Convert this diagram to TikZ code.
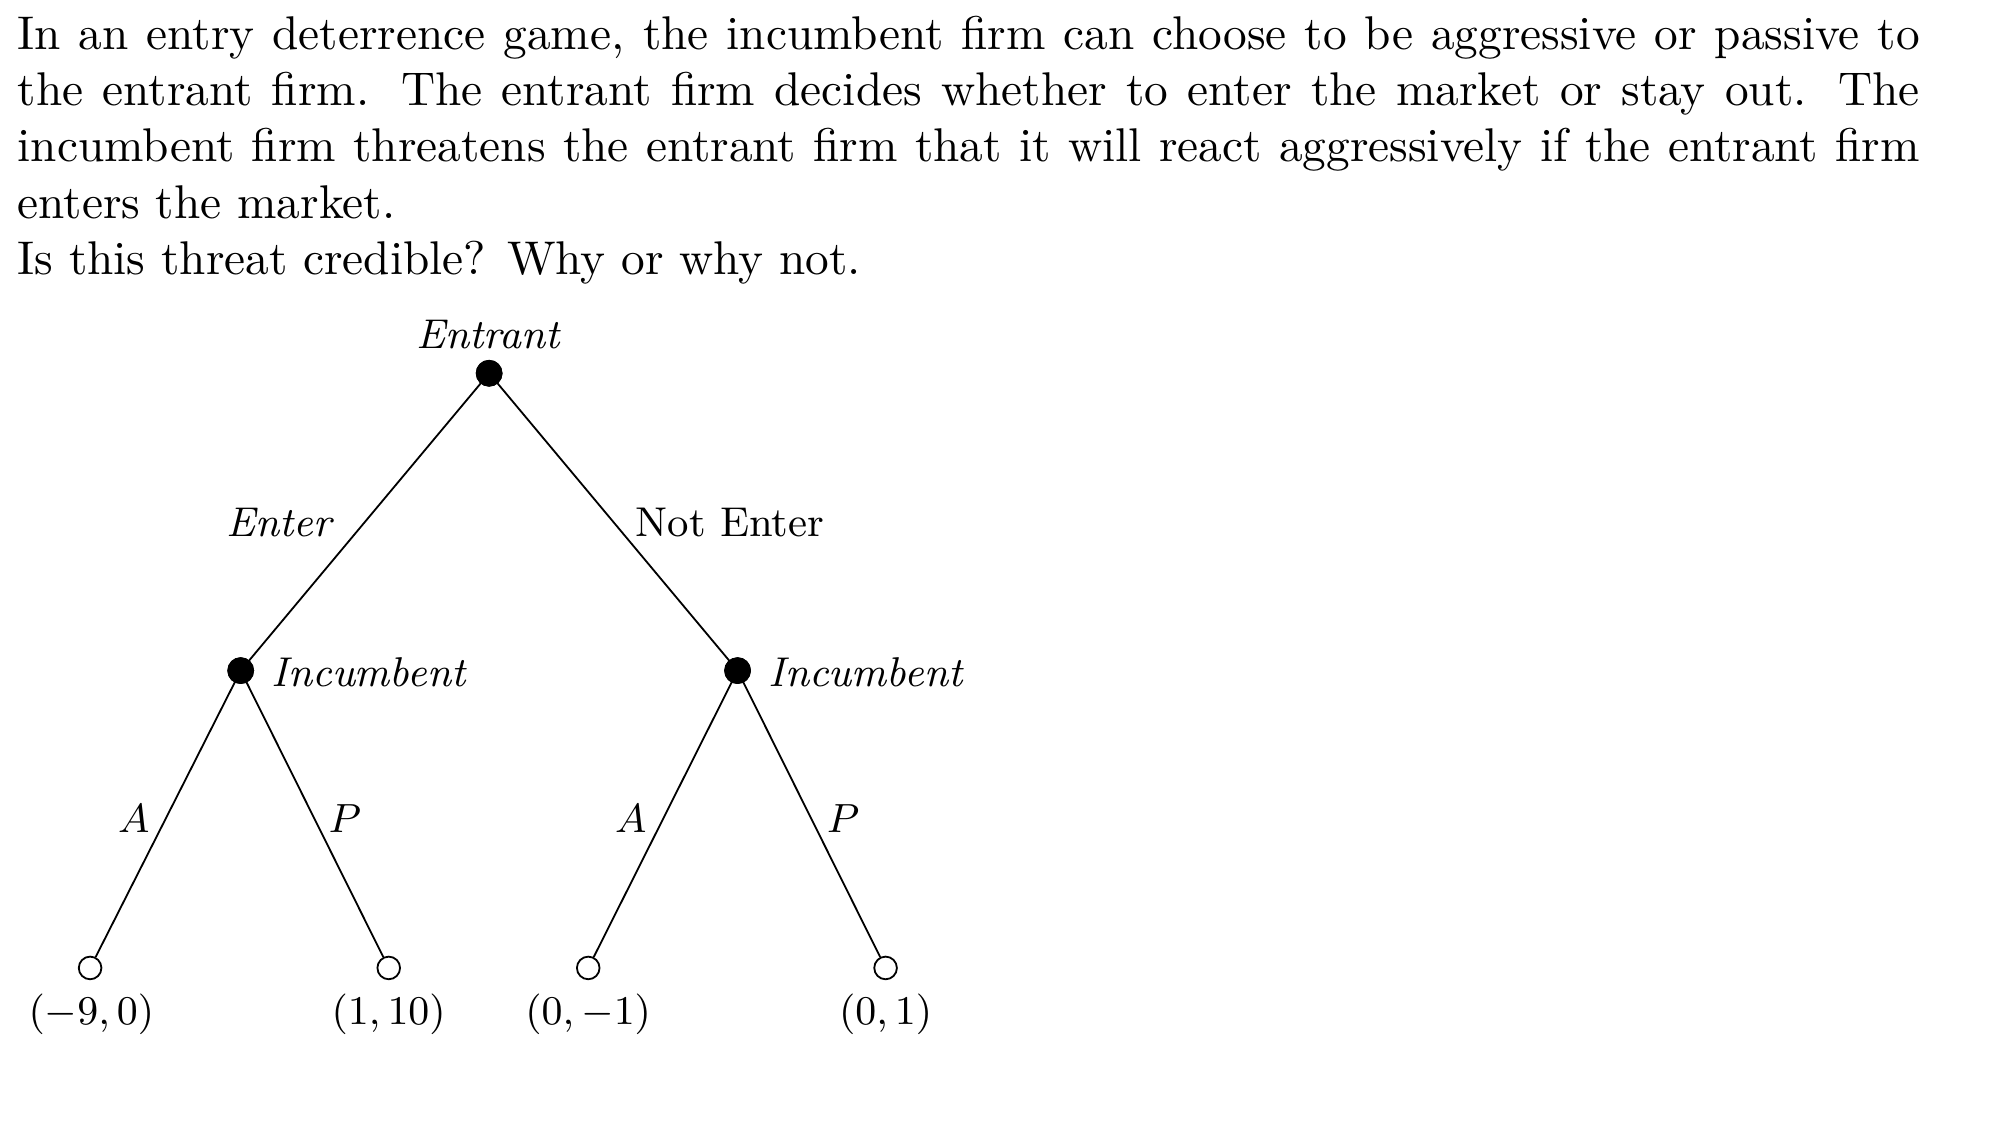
\documentclass[tikz,border=0pt]{standalone}
\begin{document}
\begin{tikzpicture}[x=0.01cm,y=-0.01cm,
  dec/.style={circle,fill=black,draw,inner sep=0pt,minimum size=5.5pt},
  term/.style={circle,fill=white,draw,inner sep=0pt,minimum size=5pt},
  lbl/.style={inner sep=1pt,font=\fontsize{9.2}{11}\selectfont},
  pay/.style={inner sep=1pt,font=\fontsize{8.7}{10}\selectfont}]
\useasboundingbox (0,0) rectangle (1560,886);
\node[anchor=north west,text width=14.77cm,align=justify,inner sep=0pt,font=\fontsize{10.45}{12.4}\selectfont] (txt) at (13,12)
{In an entry deterrence game, the incumbent firm can choose to be aggressive or passive to the entrant firm. The entrant firm decides whether to enter the market or stay out. The incumbent firm threatens the entrant firm that it will react aggressively if the entrant firm enters the market.\\
Is this threat credible? Why or why not.};
\node[dec] (r) at (380,290) {};
\node[dec] (l) at (187,521) {};
\node[dec] (rr) at (573,521) {};
\node[term] (t1) at (70,752) {};
\node[term] (t2) at (302,752) {};
\node[term] (t3) at (457,752) {};
\node[term] (t4) at (688,752) {};
\draw (r.center) -- (l.center) (r.center) -- (rr.center);
\draw (l.center) -- (t1) (l.center) -- (t2) (rr.center) -- (t3) (rr.center) -- (t4);
\node[dec] at (r) {};\node[dec] at (l) {};\node[dec] at (rr) {};
\node[lbl] (nr) at (380,260) {\textit{Entrant}};
\node[lbl] (ne) at (218,406) {\textit{Enter}};
\node[lbl] (nn) at (567,406) {Not Enter};
\node[lbl,anchor=west] (il) at (207,522) {\textit{Incumbent}};
\node[lbl,anchor=west] (ir) at (593,522) {\textit{Incumbent}};
\node[lbl] (a1) at (104,636) {$A$};
\node[lbl] (p1) at (268,636) {$P$};
\node[lbl] (a2) at (490,636) {$A$};
\node[lbl] (p2) at (655,636) {$P$};
\node[pay] (v1) at (71,788) {$(-9,0)$};
\node[pay] (v2) at (302,788) {$(1,10)$};
\node[pay] (v3) at (457,788) {$(0,-1)$};
\node[pay] (v4) at (688,788) {$(0,1)$};
\end{tikzpicture}
\end{document}
